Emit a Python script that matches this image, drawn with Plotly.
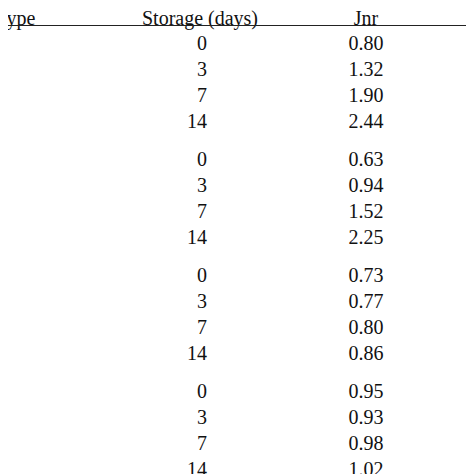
import plotly.graph_objects as go

headers = ["type", "Storage (days)", "Jnr"]
storage_days = [0, 3, 7, 14]
jnr_groups = [
    [0.80, 1.32, 1.90, 2.44],
    [0.63, 0.94, 1.52, 2.25],
    [0.73, 0.77, 0.80, 0.86],
    [0.95, 0.93, 0.98, 1.02],
]

GAP = 0.46
ys, days_txt, jnr_txt = [], [], []
for g, grp in enumerate(jnr_groups):
    for i, v in enumerate(grp):
        ys.append(g * 4 + i + g * GAP)
        days_txt.append(str(storage_days[i]))
        jnr_txt.append(f"{v:.2f}")

font = dict(family="Liberation Serif", size=20, color="#111")
fig = go.Figure()
fig.add_trace(go.Scatter(x=[199] * len(ys), y=ys, text=days_txt, mode="text",
                         textposition="middle left", textfont=font, hoverinfo="skip"))
fig.add_trace(go.Scatter(x=[358] * len(ys), y=ys, text=jnr_txt, mode="text",
                         textposition="middle center", textfont=font, hoverinfo="skip"))
fig.add_trace(go.Scatter(x=[-7, 192, 358], y=[-0.96] * 3, text=headers, mode="text",
                         textposition=["middle right", "middle center", "middle center"],
                         textfont=font, hoverinfo="skip"))
fig.add_shape(type="line", x0=0, x1=474, y0=-0.75, y1=-0.75, line=dict(color="#222", width=1.2))
fig.update_layout(width=474, height=474, margin=dict(l=0, r=0, t=0, b=0),
                  paper_bgcolor="white", plot_bgcolor="white", showlegend=False,
                  xaxis=dict(range=[0, 474], visible=False),
                  yaxis=dict(range=[(474 - 37) / 26, -37 / 26], visible=False))
fig.write_html("out.html")
